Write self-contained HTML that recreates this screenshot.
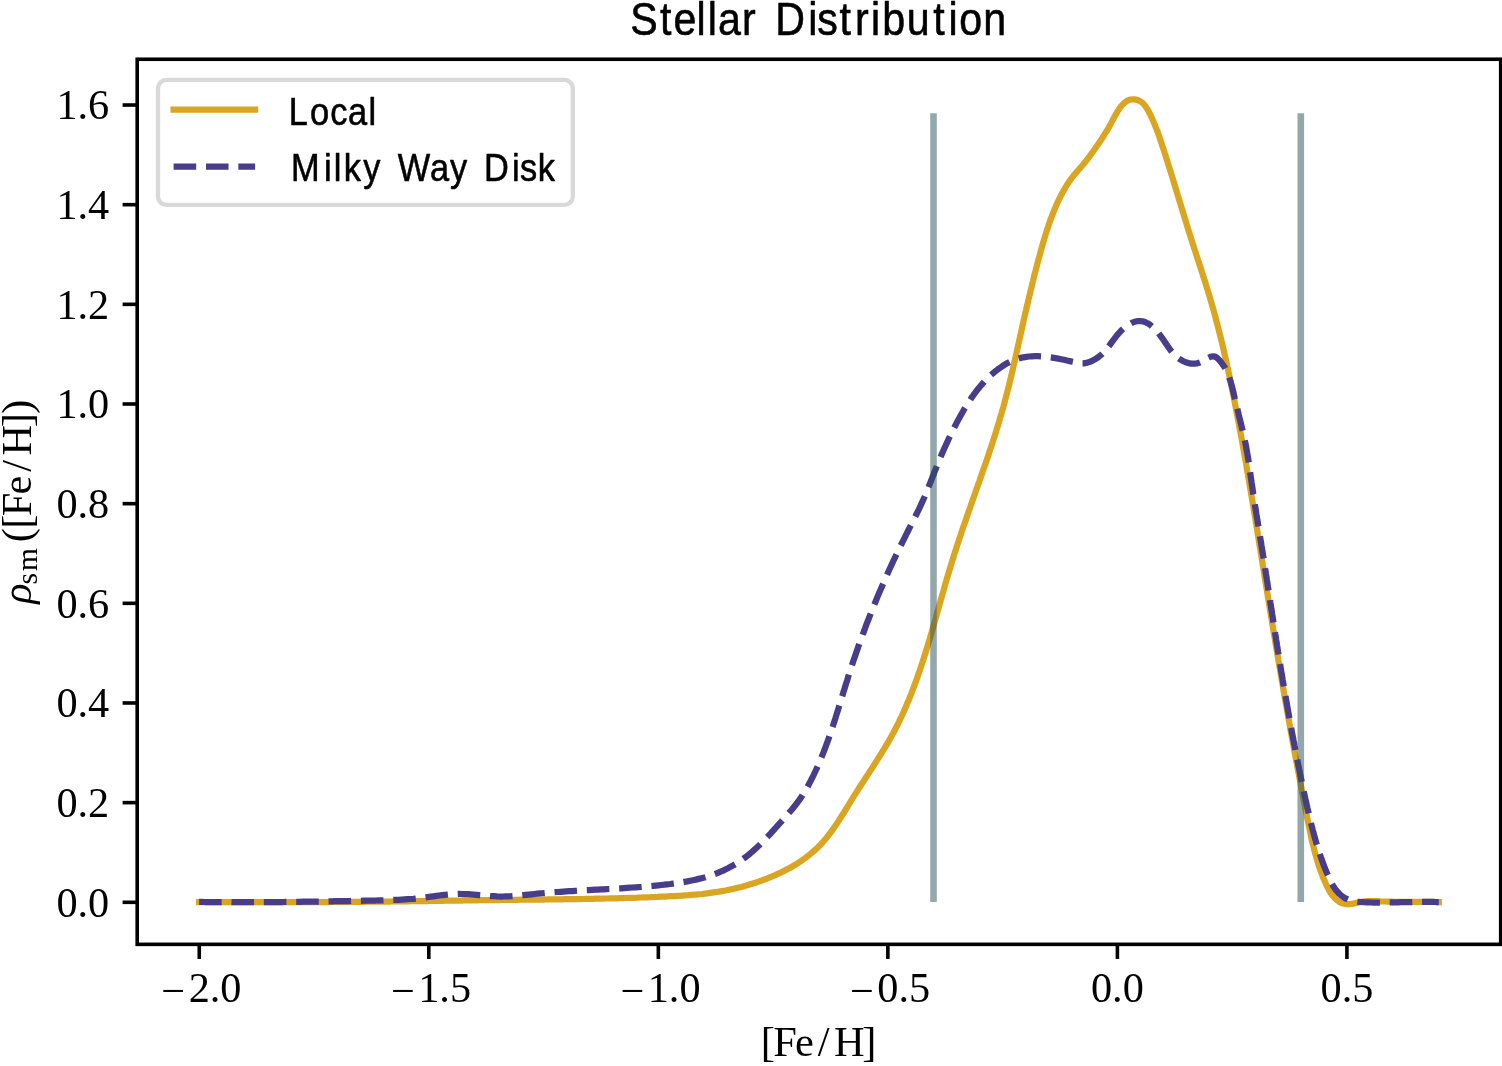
<!DOCTYPE html>
<html lang="en"><head><meta charset="utf-8"><title>Stellar Distribution</title>
<style>
html,body{margin:0;padding:0;background:#fff;}
body{width:1502px;height:1066px;overflow:hidden;}
svg{display:block;}
text{white-space:pre;}
.sans{font-family:"Liberation Sans","DejaVu Sans",sans-serif;fill:#000;}
.serif{font-family:"Liberation Serif","DejaVu Serif",serif;fill:#000;}
</style></head><body>
<svg width="1502" height="1066" viewBox="0 0 1502 1066">
<rect x="0" y="0" width="1502" height="1066" fill="#ffffff"/>
<g fill="none" stroke-linejoin="round">
<path d="M199.1,902.0 L202.5,902.0 L205.9,902.0 L209.4,902.0 L212.8,902.0 L216.2,902.0 L219.6,902.0 L223.1,902.0 L226.5,902.0 L229.9,902.0 L233.3,902.0 L236.7,902.0 L240.2,902.0 L243.6,902.0 L247.0,902.0 L250.4,902.0 L253.8,902.0 L257.3,902.0 L260.7,902.0 L264.1,902.0 L267.5,902.0 L271.0,902.0 L274.4,902.0 L277.8,902.0 L281.2,902.0 L284.6,902.0 L288.1,902.0 L291.5,902.0 L294.9,902.0 L298.3,902.0 L301.8,902.0 L305.2,902.0 L308.6,902.0 L312.0,902.0 L315.4,902.0 L318.9,902.0 L322.3,902.0 L325.7,902.0 L329.1,902.0 L332.6,901.9 L336.0,901.9 L339.4,901.9 L342.8,901.9 L346.2,901.9 L349.7,901.9 L353.1,901.8 L356.5,901.8 L359.9,901.8 L363.4,901.8 L366.8,901.7 L370.2,901.7 L373.6,901.7 L377.0,901.6 L380.5,901.6 L383.9,901.5 L387.3,901.5 L390.7,901.5 L394.1,901.4 L397.6,901.4 L401.0,901.3 L404.4,901.3 L407.8,901.3 L411.3,901.2 L414.7,901.2 L418.1,901.1 L421.5,901.1 L424.9,901.0 L428.4,901.0 L431.8,900.9 L435.2,900.9 L438.6,900.8 L442.0,900.8 L445.5,900.7 L448.9,900.7 L452.3,900.6 L455.7,900.6 L459.1,900.5 L462.6,900.5 L466.0,900.4 L469.4,900.4 L472.8,900.3 L476.3,900.3 L479.7,900.2 L483.1,900.2 L486.5,900.1 L489.9,900.1 L493.4,900.1 L496.8,900.0 L500.2,900.0 L503.6,899.9 L507.0,899.9 L510.5,899.9 L513.9,899.8 L517.3,899.8 L520.7,899.7 L524.2,899.7 L527.6,899.7 L531.0,899.6 L534.4,899.6 L537.8,899.6 L541.3,899.5 L544.7,899.5 L548.1,899.4 L551.5,899.4 L554.9,899.4 L558.4,899.3 L561.8,899.3 L565.2,899.2 L568.6,899.2 L572.1,899.1 L575.5,899.1 L578.9,899.0 L582.3,899.0 L585.7,898.9 L589.2,898.9 L592.6,898.8 L596.0,898.7 L599.4,898.7 L602.8,898.6 L606.3,898.5 L609.7,898.4 L613.1,898.4 L616.5,898.3 L619.9,898.2 L623.4,898.1 L626.8,898.0 L630.2,897.9 L633.6,897.8 L637.1,897.7 L640.5,897.5 L643.9,897.4 L647.3,897.3 L650.7,897.2 L654.2,897.0 L657.6,896.9 L661.0,896.7 L664.4,896.6 L667.8,896.4 L671.2,896.2 L674.7,896.1 L678.1,895.9 L681.5,895.7 L684.9,895.4 L688.3,895.2 L691.7,894.9 L695.1,894.6 L698.5,894.3 L701.9,894.0 L705.3,893.6 L708.7,893.2 L712.1,892.7 L715.5,892.2 L718.8,891.7 L722.2,891.1 L725.6,890.5 L728.9,889.8 L732.3,889.1 L735.6,888.3 L738.9,887.5 L742.2,886.7 L745.5,885.8 L748.8,884.8 L752.1,883.8 L755.4,882.7 L758.6,881.6 L761.9,880.5 L765.1,879.3 L768.3,878.0 L771.5,876.7 L774.7,875.3 L777.8,873.9 L781.0,872.5 L784.1,870.9 L787.1,869.3 L790.2,867.7 L793.1,866.0 L796.1,864.2 L799.0,862.4 L801.8,860.5 L804.6,858.5 L807.3,856.5 L810.0,854.4 L812.5,852.2 L815.1,850.0 L817.5,847.7 L819.9,845.3 L822.2,842.8 L824.4,840.3 L826.6,837.7 L828.7,835.0 L830.7,832.4 L832.7,829.6 L834.7,826.8 L836.6,824.0 L838.5,821.1 L840.3,818.2 L842.2,815.3 L844.0,812.4 L845.8,809.5 L847.6,806.5 L849.4,803.6 L851.2,800.6 L853.0,797.7 L854.9,794.7 L856.7,791.8 L858.6,788.9 L860.4,786.0 L862.3,783.1 L864.2,780.2 L866.1,777.3 L868.0,774.4 L869.8,771.5 L871.7,768.6 L873.6,765.7 L875.4,762.8 L877.3,759.9 L879.1,757.0 L880.9,754.1 L882.7,751.2 L884.5,748.3 L886.2,745.4 L888.0,742.4 L889.7,739.5 L891.3,736.5 L893.0,733.5 L894.6,730.5 L896.1,727.5 L897.7,724.4 L899.2,721.4 L900.6,718.3 L902.1,715.3 L903.5,712.2 L904.9,709.1 L906.2,706.0 L907.5,702.8 L908.9,699.7 L910.1,696.6 L911.4,693.4 L912.6,690.2 L913.8,687.0 L915.0,683.9 L916.2,680.7 L917.3,677.5 L918.4,674.2 L919.6,671.0 L920.7,667.8 L921.7,664.5 L922.8,661.3 L923.8,658.0 L924.9,654.8 L925.9,651.5 L926.9,648.2 L927.9,645.0 L928.9,641.7 L929.9,638.4 L930.8,635.1 L931.8,631.8 L932.7,628.5 L933.7,625.2 L934.6,621.9 L935.6,618.6 L936.5,615.3 L937.4,612.0 L938.4,608.7 L939.3,605.4 L940.2,602.0 L941.2,598.7 L942.1,595.4 L943.1,592.1 L944.0,588.8 L944.9,585.5 L945.9,582.2 L946.8,578.9 L947.8,575.6 L948.8,572.3 L949.8,569.0 L950.8,565.7 L951.8,562.4 L952.8,559.2 L953.8,555.9 L954.8,552.6 L955.9,549.4 L956.9,546.1 L958.0,542.9 L959.1,539.6 L960.2,536.4 L961.2,533.1 L962.3,529.9 L963.4,526.6 L964.6,523.4 L965.7,520.2 L966.8,516.9 L967.9,513.7 L969.0,510.5 L970.2,507.3 L971.3,504.0 L972.4,500.8 L973.6,497.6 L974.7,494.4 L975.8,491.2 L977.0,487.9 L978.1,484.7 L979.3,481.5 L980.4,478.3 L981.5,475.1 L982.6,471.8 L983.7,468.6 L984.9,465.4 L986.0,462.2 L987.1,458.9 L988.2,455.7 L989.2,452.5 L990.3,449.2 L991.4,446.0 L992.5,442.7 L993.5,439.5 L994.6,436.3 L995.6,433.0 L996.6,429.7 L997.6,426.5 L998.6,423.2 L999.6,419.9 L1000.5,416.7 L1001.5,413.4 L1002.4,410.1 L1003.4,406.8 L1004.3,403.5 L1005.1,400.2 L1006.0,396.9 L1006.9,393.6 L1007.7,390.2 L1008.6,386.9 L1009.4,383.6 L1010.2,380.2 L1011.0,376.9 L1011.8,373.6 L1012.6,370.2 L1013.3,366.9 L1014.1,363.5 L1014.9,360.2 L1015.6,356.8 L1016.4,353.5 L1017.1,350.1 L1017.9,346.8 L1018.6,343.4 L1019.3,340.1 L1020.1,336.7 L1020.8,333.4 L1021.6,330.0 L1022.3,326.7 L1023.0,323.4 L1023.8,320.0 L1024.5,316.7 L1025.3,313.3 L1026.1,310.0 L1026.8,306.7 L1027.6,303.4 L1028.4,300.0 L1029.2,296.7 L1030.0,293.4 L1030.8,290.1 L1031.6,286.8 L1032.4,283.5 L1033.2,280.2 L1034.0,276.8 L1034.8,273.5 L1035.7,270.2 L1036.5,266.9 L1037.4,263.6 L1038.3,260.3 L1039.2,257.0 L1040.1,253.7 L1041.0,250.4 L1041.9,247.1 L1042.8,243.8 L1043.8,240.5 L1044.8,237.2 L1045.8,233.9 L1046.8,230.6 L1047.9,227.4 L1049.0,224.1 L1050.1,220.9 L1051.3,217.7 L1052.5,214.5 L1053.8,211.3 L1055.1,208.2 L1056.4,205.0 L1057.8,201.9 L1059.3,198.8 L1060.8,195.8 L1062.4,192.7 L1064.1,189.8 L1065.8,186.8 L1067.6,183.9 L1069.5,181.1 L1071.5,178.3 L1073.6,175.6 L1075.8,173.0 L1078.0,170.4 L1080.3,167.8 L1082.6,165.2 L1084.8,162.6 L1086.9,159.9 L1089.0,157.2 L1091.0,154.4 L1093.0,151.7 L1095.0,148.8 L1096.9,146.0 L1098.8,143.2 L1100.7,140.4 L1102.6,137.5 L1104.4,134.6 L1106.2,131.8 L1108.0,128.8 L1109.7,125.9 L1111.3,122.9 L1112.9,119.8 L1114.5,116.8 L1116.2,113.7 L1117.9,110.8 L1119.9,107.9 L1122.0,105.2 L1124.5,102.7 L1127.2,100.7 L1130.4,99.5 L1133.7,99.3 L1137.1,99.9 L1140.1,101.2 L1142.7,103.1 L1145.0,105.6 L1146.9,108.4 L1148.7,111.5 L1150.3,114.7 L1151.8,117.9 L1153.2,121.0 L1154.6,124.2 L1155.8,127.4 L1157.1,130.6 L1158.3,133.8 L1159.4,137.0 L1160.5,140.2 L1161.6,143.5 L1162.6,146.7 L1163.7,149.9 L1164.7,153.2 L1165.8,156.4 L1166.8,159.6 L1167.8,162.9 L1168.8,166.1 L1169.9,169.4 L1170.9,172.7 L1171.9,175.9 L1172.9,179.2 L1173.9,182.5 L1174.9,185.7 L1175.9,189.0 L1176.9,192.3 L1177.9,195.6 L1178.9,198.8 L1179.9,202.1 L1180.9,205.4 L1181.9,208.7 L1182.9,212.0 L1183.9,215.2 L1184.9,218.5 L1185.9,221.8 L1186.9,225.1 L1187.9,228.4 L1188.9,231.6 L1190.0,234.9 L1191.0,238.2 L1192.0,241.4 L1193.1,244.7 L1194.1,248.0 L1195.2,251.2 L1196.2,254.5 L1197.3,257.7 L1198.4,261.0 L1199.4,264.2 L1200.5,267.5 L1201.5,270.8 L1202.6,274.0 L1203.6,277.3 L1204.7,280.5 L1205.7,283.8 L1206.7,287.1 L1207.7,290.3 L1208.7,293.6 L1209.7,296.9 L1210.6,300.1 L1211.6,303.4 L1212.5,306.7 L1213.5,310.0 L1214.4,313.3 L1215.3,316.6 L1216.1,319.9 L1217.0,323.2 L1217.9,326.5 L1218.7,329.8 L1219.6,333.2 L1220.4,336.5 L1221.2,339.8 L1222.0,343.1 L1222.8,346.4 L1223.6,349.8 L1224.3,353.1 L1225.1,356.4 L1225.9,359.8 L1226.6,363.1 L1227.3,366.5 L1228.1,369.8 L1228.8,373.2 L1229.5,376.5 L1230.2,379.9 L1230.9,383.2 L1231.6,386.6 L1232.3,389.9 L1232.9,393.3 L1233.6,396.6 L1234.3,400.0 L1234.9,403.3 L1235.6,406.7 L1236.2,410.1 L1236.9,413.4 L1237.5,416.8 L1238.2,420.2 L1238.8,423.5 L1239.4,426.9 L1240.0,430.2 L1240.7,433.6 L1241.3,437.0 L1241.9,440.3 L1242.5,443.7 L1243.1,447.1 L1243.7,450.4 L1244.3,453.8 L1244.9,457.2 L1245.5,460.5 L1246.1,463.9 L1246.7,467.3 L1247.2,470.7 L1247.8,474.0 L1248.4,477.4 L1249.0,480.8 L1249.5,484.1 L1250.1,487.5 L1250.7,490.9 L1251.2,494.3 L1251.8,497.6 L1252.4,501.0 L1252.9,504.4 L1253.5,507.8 L1254.0,511.1 L1254.6,514.5 L1255.2,517.9 L1255.7,521.3 L1256.3,524.6 L1256.8,528.0 L1257.4,531.4 L1257.9,534.8 L1258.5,538.1 L1259.0,541.5 L1259.5,544.9 L1260.1,548.3 L1260.6,551.6 L1261.2,555.0 L1261.7,558.4 L1262.3,561.8 L1262.8,565.2 L1263.4,568.5 L1263.9,571.9 L1264.4,575.3 L1265.0,578.7 L1265.5,582.0 L1266.1,585.4 L1266.6,588.8 L1267.2,592.2 L1267.7,595.6 L1268.3,598.9 L1268.8,602.3 L1269.4,605.7 L1269.9,609.1 L1270.5,612.5 L1271.0,615.8 L1271.6,619.2 L1272.1,622.6 L1272.7,626.0 L1273.2,629.3 L1273.8,632.7 L1274.4,636.1 L1274.9,639.5 L1275.5,642.9 L1276.1,646.2 L1276.6,649.6 L1277.2,653.0 L1277.8,656.4 L1278.3,659.7 L1278.9,663.1 L1279.5,666.5 L1280.1,669.9 L1280.6,673.2 L1281.2,676.6 L1281.8,680.0 L1282.4,683.4 L1283.0,686.7 L1283.5,690.1 L1284.1,693.5 L1284.7,696.9 L1285.3,700.2 L1285.9,703.6 L1286.5,707.0 L1287.1,710.4 L1287.7,713.7 L1288.3,717.1 L1288.9,720.5 L1289.5,723.8 L1290.1,727.2 L1290.7,730.6 L1291.3,733.9 L1291.9,737.3 L1292.5,740.7 L1293.1,744.0 L1293.8,747.4 L1294.4,750.8 L1295.0,754.1 L1295.6,757.5 L1296.3,760.9 L1296.9,764.2 L1297.5,767.6 L1298.1,770.9 L1298.8,774.3 L1299.4,777.7 L1300.1,781.0 L1300.7,784.4 L1301.3,787.7 L1302.0,791.1 L1302.6,794.4 L1303.3,797.8 L1303.9,801.1 L1304.6,804.5 L1305.2,807.8 L1305.9,811.2 L1306.6,814.5 L1307.2,817.9 L1307.9,821.2 L1308.6,824.6 L1309.3,827.9 L1310.0,831.3 L1310.7,834.6 L1311.4,837.9 L1312.1,841.3 L1312.9,844.6 L1313.7,847.9 L1314.6,851.2 L1315.5,854.5 L1316.4,857.8 L1317.4,861.1 L1318.4,864.4 L1319.5,867.6 L1320.6,870.9 L1321.9,874.1 L1323.1,877.4 L1324.5,880.6 L1325.9,883.8 L1327.4,887.0 L1329.0,890.1 L1330.8,893.1 L1332.7,895.8 L1334.9,898.3 L1337.4,900.5 L1340.1,902.3 L1343.2,903.5 L1346.5,904.1 L1349.9,904.1 L1353.3,903.6 L1356.7,902.9 L1360.2,902.1 L1363.6,901.5 L1367.0,901.1 L1370.5,901.0 L1373.8,901.1 L1377.2,901.2 L1380.6,901.4 L1384.0,901.5 L1387.4,901.6 L1390.9,901.7 L1394.3,901.8 L1397.7,901.8 L1401.1,901.9 L1404.6,901.9 L1408.0,901.9 L1411.4,901.9 L1414.9,901.9 L1418.3,901.9 L1421.7,901.9 L1425.1,901.9 L1428.6,901.9 L1432.0,901.9 L1435.4,902.0 L1438.8,902.0" stroke="#daa520" stroke-width="6.25" stroke-linecap="square"/>
<path d="M199.1,901.9 L202.0,901.9 L204.9,902.0 L207.8,902.0 L210.7,902.0 L213.6,902.0 L216.5,902.1 L219.4,902.1 L222.3,902.1 L225.2,902.1 L228.1,902.1 L230.9,902.1 L233.8,902.2 L236.7,902.2 L239.6,902.2 L242.5,902.2 L245.4,902.2 L248.3,902.2 L251.2,902.2 L254.1,902.1 L257.0,902.1 L259.9,902.1 L262.8,902.1 L265.7,902.1 L268.6,902.1 L271.5,902.1 L274.4,902.0 L277.3,902.0 L280.2,902.0 L283.1,902.0 L286.0,901.9 L288.9,901.9 L291.7,901.9 L294.6,901.8 L297.5,901.8 L300.4,901.8 L303.3,901.7 L306.2,901.7 L309.1,901.6 L312.0,901.6 L314.9,901.6 L317.8,901.5 L320.7,901.5 L323.6,901.4 L326.5,901.4 L329.4,901.3 L332.3,901.3 L335.2,901.2 L338.1,901.2 L341.0,901.1 L343.9,901.1 L346.7,901.0 L349.6,901.0 L352.5,900.9 L355.4,900.9 L358.3,900.8 L361.2,900.8 L364.1,900.7 L367.0,900.6 L369.9,900.6 L372.8,900.5 L375.7,900.5 L378.6,900.4 L381.5,900.4 L384.4,900.3 L387.3,900.2 L390.2,900.1 L393.0,900.0 L395.9,899.9 L398.8,899.8 L401.7,899.6 L404.6,899.4 L407.5,899.2 L410.4,899.0 L413.3,898.8 L416.1,898.5 L419.0,898.2 L421.9,897.9 L424.8,897.5 L427.7,897.1 L430.5,896.7 L433.4,896.3 L436.3,895.9 L439.1,895.5 L442.0,895.2 L444.9,894.9 L447.8,894.6 L450.6,894.3 L453.5,894.1 L456.4,894.0 L459.3,893.9 L462.2,894.0 L465.0,894.0 L467.9,894.2 L470.8,894.4 L473.7,894.6 L476.6,894.8 L479.5,895.1 L482.4,895.3 L485.3,895.6 L488.2,895.8 L491.1,896.1 L493.9,896.2 L496.8,896.4 L499.7,896.5 L502.6,896.5 L505.5,896.4 L508.4,896.3 L511.3,896.2 L514.2,896.0 L517.1,895.7 L520.0,895.5 L522.8,895.2 L525.7,894.9 L528.6,894.6 L531.5,894.3 L534.4,894.0 L537.3,893.7 L540.2,893.4 L543.1,893.2 L545.9,892.9 L548.8,892.7 L551.7,892.4 L554.6,892.2 L557.5,892.0 L560.4,891.8 L563.3,891.6 L566.1,891.4 L569.0,891.2 L571.9,891.1 L574.8,890.9 L577.7,890.7 L580.6,890.5 L583.5,890.4 L586.3,890.2 L589.2,890.1 L592.1,889.9 L595.0,889.7 L597.9,889.6 L600.8,889.4 L603.7,889.3 L606.5,889.1 L609.4,889.0 L612.3,888.8 L615.2,888.6 L618.1,888.4 L621.0,888.3 L623.9,888.1 L626.8,887.9 L629.6,887.7 L632.5,887.5 L635.4,887.3 L638.3,887.1 L641.2,886.9 L644.1,886.6 L647.0,886.4 L649.9,886.1 L652.8,885.9 L655.7,885.6 L658.5,885.3 L661.4,885.0 L664.3,884.7 L667.2,884.3 L670.1,884.0 L673.0,883.6 L675.9,883.2 L678.8,882.8 L681.6,882.4 L684.5,881.9 L687.4,881.4 L690.2,880.8 L693.0,880.2 L695.9,879.6 L698.7,878.9 L701.5,878.2 L704.3,877.5 L707.0,876.7 L709.8,875.8 L712.5,874.9 L715.2,873.9 L717.9,872.8 L720.6,871.7 L723.2,870.6 L725.8,869.3 L728.4,868.0 L731.0,866.6 L733.5,865.2 L736.0,863.7 L738.4,862.1 L740.9,860.5 L743.2,858.8 L745.6,857.1 L747.8,855.3 L750.1,853.5 L752.3,851.6 L754.5,849.7 L756.6,847.7 L758.7,845.8 L760.8,843.7 L762.8,841.7 L764.8,839.6 L766.8,837.5 L768.8,835.4 L770.8,833.3 L772.7,831.1 L774.7,829.0 L776.6,826.8 L778.5,824.7 L780.5,822.5 L782.4,820.3 L784.3,818.2 L786.2,816.0 L788.1,813.8 L790.0,811.7 L791.9,809.5 L793.7,807.2 L795.5,805.0 L797.3,802.7 L799.0,800.4 L800.6,798.1 L802.3,795.6 L803.8,793.2 L805.3,790.7 L806.8,788.2 L808.2,785.6 L809.5,783.0 L810.9,780.5 L812.2,777.9 L813.5,775.3 L814.7,772.7 L816.0,770.0 L817.2,767.4 L818.3,764.8 L819.5,762.1 L820.6,759.4 L821.7,756.8 L822.8,754.1 L823.9,751.4 L824.9,748.7 L825.9,746.0 L826.9,743.3 L827.9,740.6 L828.9,737.8 L829.8,735.1 L830.7,732.4 L831.7,729.6 L832.6,726.9 L833.5,724.1 L834.4,721.4 L835.3,718.6 L836.1,715.9 L837.0,713.1 L837.9,710.3 L838.7,707.6 L839.6,704.8 L840.4,702.0 L841.3,699.3 L842.1,696.5 L843.0,693.7 L843.8,690.9 L844.7,688.2 L845.5,685.4 L846.4,682.6 L847.3,679.9 L848.1,677.1 L849.0,674.4 L849.9,671.6 L850.8,668.8 L851.7,666.1 L852.6,663.3 L853.5,660.6 L854.4,657.9 L855.4,655.1 L856.3,652.4 L857.3,649.6 L858.2,646.9 L859.2,644.2 L860.2,641.5 L861.2,638.7 L862.2,636.0 L863.2,633.3 L864.2,630.6 L865.2,627.9 L866.2,625.2 L867.2,622.5 L868.3,619.8 L869.3,617.1 L870.4,614.4 L871.5,611.7 L872.5,609.0 L873.6,606.3 L874.7,603.7 L875.8,601.0 L876.9,598.3 L878.0,595.6 L879.1,593.0 L880.3,590.3 L881.4,587.7 L882.6,585.0 L883.7,582.3 L884.9,579.7 L886.0,577.0 L887.2,574.4 L888.4,571.8 L889.6,569.1 L890.8,566.5 L892.0,563.9 L893.2,561.2 L894.5,558.6 L895.7,556.0 L896.9,553.4 L898.2,550.8 L899.4,548.2 L900.7,545.6 L902.0,543.0 L903.3,540.4 L904.6,537.8 L905.9,535.2 L907.2,532.6 L908.5,530.0 L909.8,527.4 L911.1,524.8 L912.4,522.2 L913.7,519.7 L915.0,517.1 L916.3,514.5 L917.6,511.9 L918.9,509.3 L920.1,506.7 L921.3,504.0 L922.5,501.4 L923.7,498.8 L924.9,496.1 L926.0,493.5 L927.1,490.8 L928.2,488.1 L929.2,485.4 L930.3,482.7 L931.4,480.0 L932.4,477.3 L933.5,474.6 L934.5,471.9 L935.6,469.2 L936.6,466.6 L937.7,463.9 L938.8,461.2 L939.9,458.5 L941.1,455.8 L942.2,453.2 L943.4,450.5 L944.6,447.8 L945.8,445.2 L947.0,442.6 L948.2,439.9 L949.4,437.3 L950.7,434.7 L952.0,432.1 L953.3,429.5 L954.6,426.9 L955.9,424.4 L957.2,421.8 L958.6,419.3 L960.0,416.7 L961.4,414.2 L962.8,411.7 L964.2,409.2 L965.7,406.7 L967.2,404.3 L968.8,401.9 L970.4,399.5 L972.0,397.1 L973.7,394.7 L975.4,392.4 L977.1,390.1 L979.0,387.9 L980.8,385.6 L982.8,383.4 L984.7,381.2 L986.8,379.1 L988.9,377.0 L991.0,375.0 L993.2,373.1 L995.5,371.2 L997.8,369.4 L1000.2,367.7 L1002.6,366.0 L1005.0,364.5 L1007.5,363.1 L1010.1,361.8 L1012.7,360.6 L1015.3,359.6 L1018.0,358.7 L1020.7,357.9 L1023.5,357.3 L1026.3,356.8 L1029.1,356.5 L1032.0,356.3 L1034.9,356.2 L1037.8,356.2 L1040.7,356.3 L1043.6,356.5 L1046.5,356.8 L1049.5,357.2 L1052.4,357.6 L1055.3,358.1 L1058.2,358.6 L1061.1,359.2 L1064.0,359.8 L1066.9,360.5 L1069.7,361.1 L1072.5,361.8 L1075.3,362.4 L1078.0,363.0 L1080.8,363.4 L1083.5,363.4 L1086.3,362.9 L1089.1,362.1 L1091.9,361.0 L1094.5,359.6 L1097.1,358.0 L1099.4,356.2 L1101.7,354.3 L1103.8,352.3 L1105.7,350.2 L1107.5,348.0 L1109.3,345.7 L1110.9,343.4 L1112.6,341.1 L1114.3,338.8 L1116.0,336.6 L1117.8,334.3 L1119.8,332.1 L1121.8,330.0 L1124.0,328.0 L1126.5,326.1 L1129.0,324.4 L1131.7,322.9 L1134.4,321.8 L1137.1,321.2 L1139.8,321.0 L1142.5,321.3 L1145.0,322.0 L1147.5,323.2 L1149.9,324.7 L1152.2,326.6 L1154.5,328.6 L1156.6,330.8 L1158.6,333.2 L1160.4,335.6 L1162.2,338.1 L1163.9,340.5 L1165.5,342.9 L1167.1,345.3 L1168.7,347.7 L1170.4,350.0 L1172.1,352.1 L1174.0,354.2 L1175.9,356.2 L1178.1,358.0 L1180.4,359.6 L1182.9,361.0 L1185.6,362.2 L1188.5,363.1 L1191.3,363.6 L1194.3,363.7 L1197.2,363.3 L1200.0,362.4 L1202.8,361.1 L1205.5,359.5 L1208.0,358.0 L1210.5,356.8 L1212.9,356.3 L1215.2,356.7 L1217.4,358.2 L1219.5,360.2 L1221.3,362.5 L1223.0,364.9 L1224.6,367.4 L1226.0,369.9 L1227.2,372.5 L1228.3,375.2 L1229.3,377.9 L1230.3,380.7 L1231.1,383.5 L1231.9,386.3 L1232.6,389.1 L1233.3,392.0 L1234.0,394.9 L1234.6,397.7 L1235.3,400.6 L1236.0,403.4 L1236.7,406.2 L1237.4,409.1 L1238.1,411.9 L1238.7,414.7 L1239.4,417.5 L1240.1,420.3 L1240.8,423.1 L1241.5,425.9 L1242.2,428.7 L1242.8,431.5 L1243.5,434.3 L1244.1,437.1 L1244.7,439.9 L1245.3,442.7 L1245.9,445.5 L1246.4,448.4 L1246.9,451.2 L1247.4,454.0 L1247.9,456.9 L1248.4,459.8 L1248.8,462.6 L1249.2,465.5 L1249.6,468.4 L1250.0,471.2 L1250.4,474.1 L1250.8,477.0 L1251.2,479.9 L1251.6,482.7 L1252.1,485.6 L1252.5,488.5 L1252.9,491.4 L1253.3,494.2 L1253.8,497.1 L1254.2,500.0 L1254.6,502.8 L1255.1,505.7 L1255.5,508.6 L1256.0,511.4 L1256.4,514.3 L1256.9,517.1 L1257.4,520.0 L1257.8,522.9 L1258.3,525.7 L1258.8,528.6 L1259.2,531.4 L1259.7,534.3 L1260.1,537.1 L1260.6,540.0 L1261.1,542.8 L1261.5,545.7 L1262.0,548.6 L1262.4,551.4 L1262.9,554.3 L1263.4,557.1 L1263.8,560.0 L1264.3,562.8 L1264.7,565.7 L1265.1,568.5 L1265.6,571.4 L1266.0,574.3 L1266.5,577.1 L1266.9,580.0 L1267.4,582.8 L1267.8,585.7 L1268.2,588.6 L1268.7,591.4 L1269.1,594.3 L1269.6,597.1 L1270.0,600.0 L1270.4,602.8 L1270.9,605.7 L1271.3,608.6 L1271.8,611.4 L1272.2,614.3 L1272.7,617.1 L1273.1,620.0 L1273.5,622.9 L1274.0,625.7 L1274.4,628.6 L1274.9,631.4 L1275.3,634.3 L1275.8,637.2 L1276.2,640.0 L1276.7,642.9 L1277.1,645.7 L1277.6,648.6 L1278.0,651.5 L1278.5,654.3 L1279.0,657.2 L1279.4,660.0 L1279.9,662.9 L1280.4,665.8 L1280.8,668.6 L1281.3,671.5 L1281.8,674.3 L1282.3,677.2 L1282.7,680.0 L1283.2,682.9 L1283.7,685.8 L1284.2,688.6 L1284.7,691.5 L1285.2,694.3 L1285.7,697.2 L1286.2,700.0 L1286.7,702.9 L1287.2,705.7 L1287.7,708.6 L1288.2,711.5 L1288.7,714.3 L1289.2,717.2 L1289.7,720.0 L1290.2,722.9 L1290.8,725.7 L1291.3,728.6 L1291.8,731.4 L1292.3,734.2 L1292.9,737.1 L1293.4,739.9 L1294.0,742.8 L1294.5,745.6 L1295.1,748.5 L1295.6,751.3 L1296.2,754.2 L1296.7,757.0 L1297.3,759.8 L1297.8,762.7 L1298.4,765.5 L1299.0,768.3 L1299.6,771.2 L1300.1,774.0 L1300.7,776.8 L1301.3,779.7 L1301.9,782.5 L1302.5,785.3 L1303.1,788.1 L1303.7,791.0 L1304.3,793.8 L1304.9,796.6 L1305.5,799.4 L1306.2,802.3 L1306.8,805.1 L1307.4,807.9 L1308.1,810.7 L1308.7,813.5 L1309.4,816.3 L1310.0,819.1 L1310.7,821.9 L1311.4,824.7 L1312.1,827.5 L1312.8,830.3 L1313.6,833.1 L1314.3,835.9 L1315.1,838.7 L1315.9,841.5 L1316.7,844.3 L1317.6,847.0 L1318.4,849.8 L1319.3,852.6 L1320.2,855.3 L1321.2,858.1 L1322.2,860.8 L1323.2,863.6 L1324.2,866.3 L1325.3,869.1 L1326.4,871.8 L1327.6,874.5 L1328.8,877.2 L1330.0,879.9 L1331.3,882.5 L1332.7,885.1 L1334.2,887.5 L1335.8,889.9 L1337.6,892.0 L1339.5,894.0 L1341.5,895.8 L1343.8,897.4 L1346.2,898.7 L1348.8,899.8 L1351.6,900.6 L1354.5,901.3 L1357.5,901.7 L1360.6,902.0 L1363.6,902.2 L1366.7,902.3 L1369.6,902.4 L1372.5,902.5 L1375.3,902.5 L1378.0,902.5 L1380.8,902.5 L1383.7,902.5 L1386.5,902.5 L1389.4,902.4 L1392.2,902.4 L1395.1,902.3 L1398.1,902.3 L1401.0,902.2 L1403.9,902.2 L1406.9,902.1 L1409.8,902.1 L1412.7,902.0 L1415.7,902.0 L1418.6,901.9 L1421.5,901.9 L1424.5,901.9 L1427.4,901.9 L1430.3,901.9 L1433.1,901.9 L1436.0,902.0 L1438.8,902.0" stroke="#483d8b" stroke-width="6.25" stroke-linecap="butt" stroke-dasharray="22.58 9.79"/>
<line x1="933.5" y1="113.2" x2="933.5" y2="902" stroke="#295159" stroke-opacity="0.5" stroke-width="6.6"/>
<line x1="1300.8" y1="113.2" x2="1300.8" y2="902" stroke="#295159" stroke-opacity="0.5" stroke-width="6.6"/>
</g>
<g stroke="#000" stroke-width="3.6" fill="none">
<line x1="199.27" y1="944.35" x2="199.27" y2="958.95"/>
<line x1="428.80" y1="944.35" x2="428.80" y2="958.95"/>
<line x1="658.33" y1="944.35" x2="658.33" y2="958.95"/>
<line x1="887.86" y1="944.35" x2="887.86" y2="958.95"/>
<line x1="1117.39" y1="944.35" x2="1117.39" y2="958.95"/>
<line x1="1346.92" y1="944.35" x2="1346.92" y2="958.95"/>
<line x1="122.60" y1="902.30" x2="137.2" y2="902.30"/>
<line x1="122.60" y1="802.64" x2="137.2" y2="802.64"/>
<line x1="122.60" y1="702.98" x2="137.2" y2="702.98"/>
<line x1="122.60" y1="603.32" x2="137.2" y2="603.32"/>
<line x1="122.60" y1="503.66" x2="137.2" y2="503.66"/>
<line x1="122.60" y1="404.00" x2="137.2" y2="404.00"/>
<line x1="122.60" y1="304.34" x2="137.2" y2="304.34"/>
<line x1="122.60" y1="204.68" x2="137.2" y2="204.68"/>
<line x1="122.60" y1="105.02" x2="137.2" y2="105.02"/>
<rect x="137.2" y="59.25" width="1363.50" height="885.10" stroke-linejoin="miter"/>
</g>
<g class="serif">
<text x="161.37 188.70 209.81 220.35" y="1001.60" dy="3.70 -3.70 0.00 0.00" font-size="42.3">−2.0</text>
<text x="390.90 418.23 439.34 449.88" y="1001.60" dy="3.70 -3.70 0.00 0.00" font-size="42.3">−1.5</text>
<text x="620.43 647.76 668.87 679.41" y="1001.60" dy="3.70 -3.70 0.00 0.00" font-size="42.3">−1.0</text>
<text x="849.96 877.29 898.40 908.94" y="1001.60" dy="3.70 -3.70 0.00 0.00" font-size="42.3">−0.5</text>
<text x="1090.99 1112.10 1122.64" y="1001.60" font-size="42.3">0.0</text>
<text x="1320.52 1341.63 1352.17" y="1001.60" font-size="42.3">0.5</text>
<text x="56.40 77.52 88.06" y="916.50" font-size="42.3">0.0</text>
<text x="56.40 77.52 88.06" y="816.84" font-size="42.3">0.2</text>
<text x="56.40 77.52 88.06" y="717.18" font-size="42.3">0.4</text>
<text x="56.40 77.52 88.06" y="617.52" font-size="42.3">0.6</text>
<text x="56.40 77.52 88.06" y="517.86" font-size="42.3">0.8</text>
<text x="56.40 77.52 88.06" y="418.20" font-size="42.3">1.0</text>
<text x="56.40 77.52 88.06" y="318.54" font-size="42.3">1.2</text>
<text x="56.40 77.52 88.06" y="218.88" font-size="42.3">1.4</text>
<text x="56.40 77.52 88.06" y="119.22" font-size="42.3">1.6</text>
<text x="760.83 773.36 795.04 817.84 834.06 862.16" y="1055.9" font-size="42.4">[Fe/H]</text>
<text transform="translate(30.7 605.8) rotate(-90)" font-size="42.4"><tspan x="2.06" y="0" font-style="italic">ρ</tspan><tspan x="21.24 34.93" y="6.1" font-size="29.5">sm</tspan><tspan x="63.56 77.13 89.66 111.34 134.14 150.36 178.46 191.99" y="0">([Fe/H])</tspan></text>
</g>
<text class="sans" transform="scale(0.8750 1)" y="34.9" font-size="47.0" x="720.34 754.34 769.63 796.01 808.96 820.61 848.15 867.74 885.91 923.72 934.06 959.46 977.21 995.56 1008.19 1036.20 1066.54 1084.11 1096.29 1123.85" stroke="#000" stroke-width="0.6" stroke-linejoin="round">Stellar Distribution</text>
<rect x="158" y="79.9" width="414.8" height="125" rx="8.3" ry="8.3" fill="#fff" fill-opacity="0.8" stroke="#d9d9d9" stroke-width="4.4"/>
<line x1="173.6" y1="109.7" x2="255.1" y2="109.7" stroke="#daa520" stroke-width="6.25" stroke-linecap="square"/>
<line x1="173.6" y1="166.7" x2="255.1" y2="166.7" stroke="#483d8b" stroke-width="6.25" stroke-dasharray="22.58 9.79"/>
<g class="sans" font-size="39.5" stroke="#000" stroke-width="0.6" stroke-linejoin="round">
<text transform="scale(0.8700 1)" y="124.7" x="332.03 356.40 379.60 400.12 423.55">Local</text>
<text transform="scale(0.8700 1)" y="181.0" x="334.36 372.48 383.65 395.19 417.41 440.38 457.12 494.21 517.34 540.31 556.23 588.59 597.65 618.05">Milky Way Disk</text>
</g>
</svg></body></html>
